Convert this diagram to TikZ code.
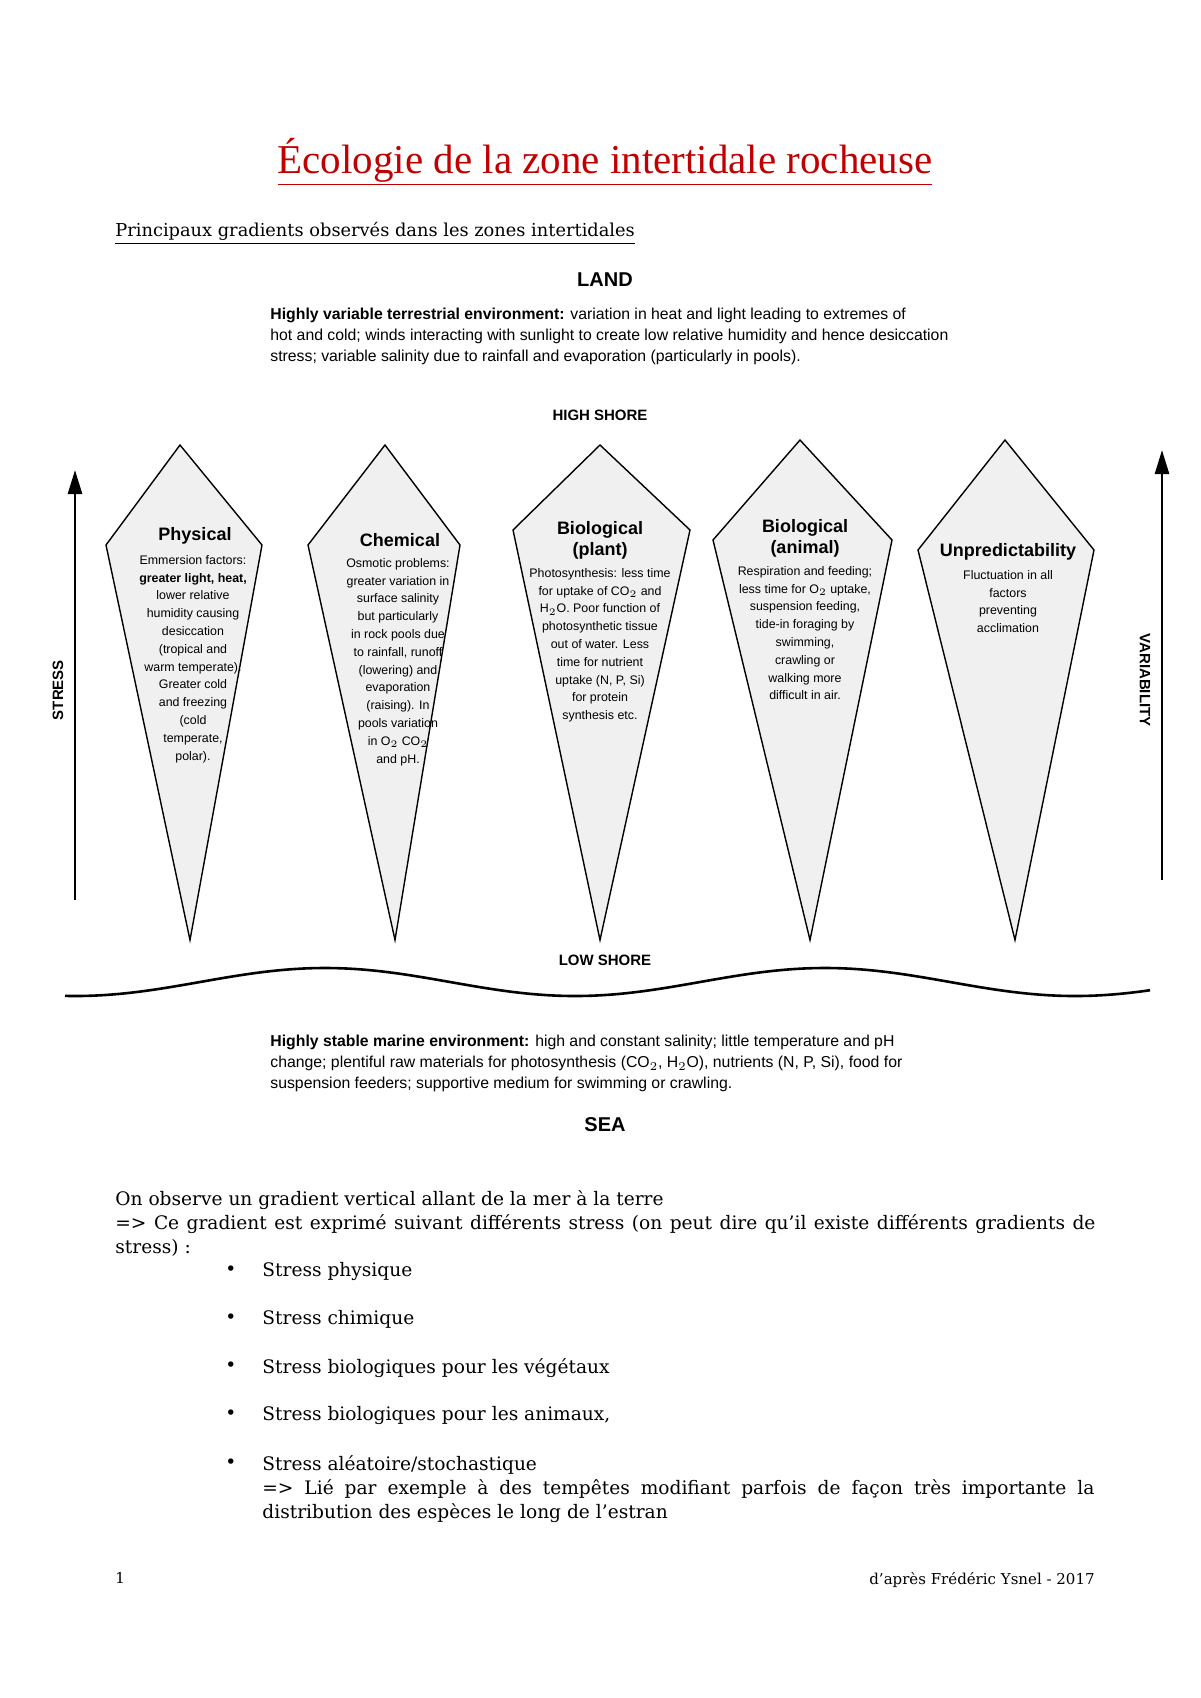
\documentclass[tikz,border=0pt]{standalone}
\usepackage{fontspec}
\setmainfont{DejaVu Serif}
\newfontfamily\tserif{Liberation Serif}
\newfontfamily\dsans{Liberation Sans}
\usetikzlibrary{arrows.meta}
\definecolor{titlered}{RGB}{192,0,0}
\begin{document}
\begin{tikzpicture}[x=0.5pt,y=-0.5pt,
  kite/.style={draw=black,line width=0.7pt,fill=gray!12},
  ktext/.style={font=\dsans\fontsize{6.2}{8.9}\selectfont,align=center,inner sep=0pt},
  khead/.style={font=\dsans\bfseries\fontsize{9}{10.5}\selectfont,align=center,inner sep=0pt},
  dtext/.style={font=\dsans\fontsize{7.9}{10.5}\selectfont,align=left,anchor=north west,inner sep=0pt},
  lab/.style={font=\dsans\bfseries\fontsize{7.5}{9}\selectfont,inner sep=0pt},
  body/.style={font=\fontsize{9.3}{12}\selectfont,anchor=north west,inner sep=0pt,align=left}]
\useasboundingbox (0,0) rectangle (1200,1698);
\fill[white] (0,0) rectangle (1200,1698);
\node (title) at (605,162) {\color{titlered}\tserif\fontsize{20.5}{24}\selectfont\underline{Écologie de la zone intertidale rocheuse}};
\node[body,font=\fontsize{8.9}{11}\selectfont] (sub) at (115,222) {\underline{Principaux gradients observés dans les zones intertidales}};
\node[lab,font=\dsans\bfseries\fontsize{10}{11}\selectfont] (land) at (605,280) {LAND};
\node[dtext] (landt) at (270,308) {\textbf{Highly variable terrestrial environment:} variation in heat and light leading to extremes of\\hot and cold; winds interacting with sunlight to create low relative humidity and hence desiccation\\stress; variable salinity due to rainfall and evaporation (particularly in pools).};
\node[lab] (high) at (600,415) {HIGH SHORE};
% kites
\draw[kite] (180,445) -- (262,545) -- (190,940) -- (106,545) -- cycle;
\draw[kite] (385,445) -- (460,545) -- (395,940) -- (308,545) -- cycle;
\draw[kite] (600,445) -- (690,530) -- (600,940) -- (513,530) -- cycle;
\draw[kite] (800,440) -- (892,540) -- (810,940) -- (713,540) -- cycle;
\draw[kite] (1005,440) -- (1094,550) -- (1015,940) -- (918,550) -- cycle;
\node[khead] (k1h) at (195,536) {Physical};
\node[ktext,anchor=north] (k1t) at (193,555) {Emmersion factors:\\\textbf{greater light, heat,}\\lower relative\\humidity causing\\desiccation\\(tropical and\\warm temperate).\\Greater cold\\and freezing\\(cold\\temperate,\\polar).};
\node[khead] (k2h) at (400,540) {Chemical};
\node[ktext,anchor=north] (k2t) at (398,558) {Osmotic problems:\\greater variation in\\surface salinity\\but particularly\\in rock pools due\\to rainfall, runoff\\(lowering) and\\evaporation\\(raising). In\\pools variation\\in O$_2$ CO$_2$\\and pH.};
\node[khead] (k3h) at (600,540) {Biological\\(plant)};
\node[ktext,anchor=north] (k3t) at (600,568) {Photosynthesis: less time\\for uptake of CO$_2$ and\\H$_2$O. Poor function of\\photosynthetic tissue\\out of water. Less\\time for nutrient\\uptake (N, P, Si)\\for protein\\synthesis etc.};
\node[khead] (k4h) at (805,538) {Biological\\(animal)};
\node[ktext,anchor=north] (k4t) at (805,566) {Respiration and feeding;\\less time for O$_2$ uptake,\\suspension feeding,\\tide-in foraging by\\swimming,\\crawling or\\walking more\\difficult in air.};
\node[khead] (k5h) at (1008,552) {Unpredictability};
\node[ktext,anchor=north] (k5t) at (1008,570) {Fluctuation in all\\factors\\preventing\\acclimation};
% arrows
\coordinate (sa) at (75,900); \coordinate (sb) at (75,470);
\draw[line width=1.3pt,-{Triangle[length=12pt,width=7pt]}] (sa) -- (sb);
\node[lab,rotate=90] (stress) at (58,690) {STRESS};
\coordinate (va) at (1162,880); \coordinate (vb) at (1162,450);
\draw[line width=1.3pt,-{Triangle[length=12pt,width=7pt]}] (va) -- (vb);
\node[lab,rotate=-90] (var) at (1145,680) {VARIABILITY};
\node[lab] (low) at (605,960) {LOW SHORE};
\draw[line width=1.3pt,domain=65:1150,samples=120,smooth] plot (\x,{982-14*sin((\x-200)*0.72)});
\node[dtext] (seat) at (270,1035) {\textbf{Highly stable marine environment:} high and constant salinity; little temperature and pH\\change; plentiful raw materials for photosynthesis (CO$_2$, H$_2$O), nutrients (N, P, Si), food for\\suspension feeders; supportive medium for swimming or crawling.};
\node[lab,font=\dsans\bfseries\fontsize{10}{11}\selectfont] (sea) at (605,1125) {SEA};
\node[body,text width=490pt,align=justify] (p1) at (115,1190) {On observe un gradient vertical allant de la mer à la terre\\
=> Ce gradient est exprimé suivant différents stress (on peut dire qu’il existe différents gradients de stress) :};
\foreach \y/\t [count=\i] in {1262/{Stress physique},1310/{Stress chimique},1358/{Stress biologiques pour les végétaux},1406/{Stress biologiques pour les animaux,},1455/{Stress aléatoire{/}stochastique}}{
  \node[body] (b\i) at (225,\y+3) {•};
  \node[body] (t\i) at (262,\y) {\t};
}
\node[body,text width=416pt,align=justify] (p2) at (262,1479) {=> Lié par exemple à des tempêtes modifiant parfois de façon très importante la\linebreak distribution des espèces le long de l’estran};
\node[body,font=\fontsize{7.5}{10}\selectfont] (pg) at (115,1572) {1};
\node[body,anchor=north east,font=\fontsize{7.5}{10}\selectfont] (au) at (1095,1572) {d’après Frédéric Ysnel - 2017};
\end{tikzpicture}
\end{document}
